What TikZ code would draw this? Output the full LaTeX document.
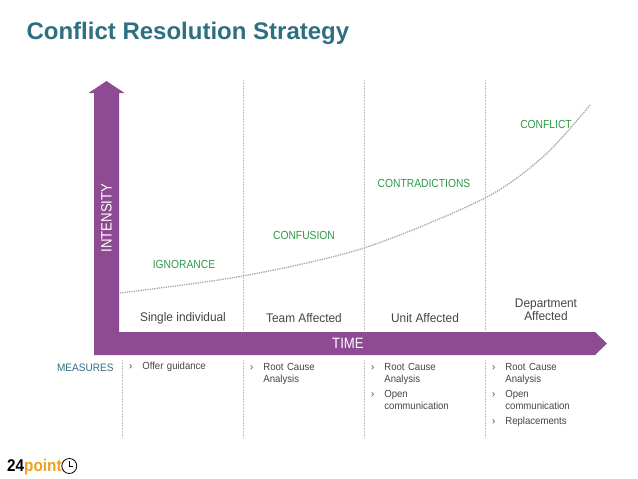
\documentclass[tikz,border=0pt]{standalone}
\usepackage{fontspec}
\setmainfont{Liberation Sans}
\definecolor{purp}{HTML}{8E4A92}
\definecolor{grn}{HTML}{2E9A47}
\definecolor{teal}{HTML}{2F6F82}
\definecolor{txt}{HTML}{444444}
\definecolor{org}{HTML}{F0A020}
\begin{document}
\begin{tikzpicture}[x=1pt,y=-1pt,
  lab/.style={text=grn,font=\fontsize{11.7}{13}\selectfont\addfontfeature{FakeStretch=0.88}},
  cat/.style={text=txt,font=\fontsize{12.5}{13}\selectfont\addfontfeature{FakeStretch=0.95},align=center},
  meas/.style={text=txt,font=\fontsize{10.3}{12}\selectfont\addfontfeature{FakeStretch=0.93},align=left,anchor=north west,text width=80pt,inner sep=0},
  div/.style={gray!50,densely dotted,line width=0.5pt}]
\useasboundingbox (0,0) rectangle (638,479);
\node[anchor=west,text=teal,font=\bfseries\fontsize{24}{28}\selectfont] (title) at (23,33) {Conflict Resolution Strategy};
% dividers
\foreach \x in {243,364,485}{\draw[div] (\x,80) -- (\x,330);}
\foreach \x in {122,243,364,485}{\draw[div] (\x,360) -- (\x,437);}
% axes
\fill[purp] (94,355) -- (94,93) -- (88.5,93) -- (106.5,81) -- (124.5,93) -- (119,93) -- (119,332) -- (595,332) -- (595,332) -- (607,343.5) -- (595,355) -- cycle;
\node[rotate=90,text=white,font=\fontsize{15}{16}\selectfont\addfontfeature{FakeStretch=0.88}] (int) at (106.5,218) {INTENSITY};
\node[text=white,font=\fontsize{15}{16}\selectfont\addfontfeature{FakeStretch=0.88}] (time) at (348,343.5) {TIME};
% curve
\draw[gray!70,densely dotted,line width=1.3pt] plot[smooth] coordinates {(120,293) (243,276) (364,248) (485,198) (545,155) (590,105)};
\node[lab] (ig) at (184,264) {IGNORANCE};
\node[lab] (cf) at (304,235) {CONFUSION};
\node[lab] (ct) at (424,183) {CONTRADICTIONS};
\node[lab] (cn) at (546,124) {CONFLICT};
% categories
\node[cat] (c1) at (183,318) {Single individual};
\node[cat] (c2) at (304,318) {Team Affected};
\node[cat] (c3) at (425,318) {Unit Affected};
\node[cat] (c4) at (546,310) {Department\\Affected};
\node[text=teal,anchor=east,font=\fontsize{10.8}{12}\selectfont\addfontfeature{FakeStretch=0.93}] (m) at (117,368) {MEASURES};
\node[meas] (m1) at (129,362) {›\hspace{10pt}Offer guidance};
\node[meas] (m2) at (250,362) {\begin{tabular}{@{}l@{\hspace{10pt}}l@{}}›&Root Cause\\&Analysis\end{tabular}};
\node[meas] (m3) at (371,362) {\begin{tabular}{@{}l@{\hspace{10pt}}l@{}}›&Root Cause\\&Analysis\\[3pt]›&Open\\&communication\end{tabular}};
\node[meas] (m4) at (492,362) {\begin{tabular}{@{}l@{\hspace{10pt}}l@{}}›&Root Cause\\&Analysis\\[3pt]›&Open\\&communication\\[3pt]›&Replacements\end{tabular}};
% logo
\node[anchor=west,inner sep=0,font=\bfseries\fontsize{17}{18}\selectfont\addfontfeature{FakeStretch=0.9}] (logo) at (7,467) {24\textcolor{org}{point}};
\draw[thick] (logo.east) ++(7.5,-1) coordinate (ck) circle (7.5);
\draw[thick] (ck) -- ++(0,-5) (ck) -- ++(3.5,0);
\end{tikzpicture}
\end{document}
